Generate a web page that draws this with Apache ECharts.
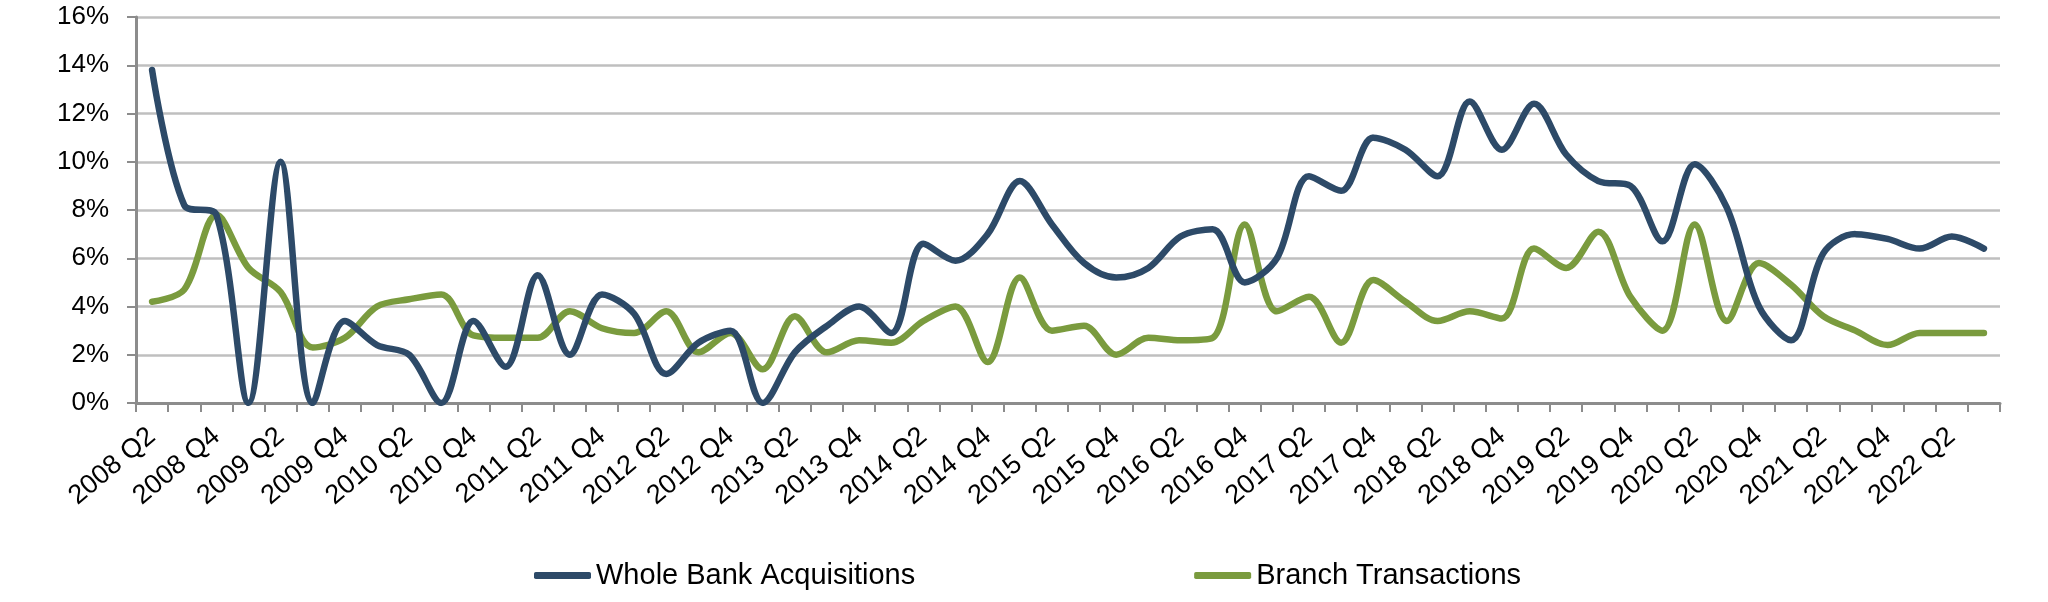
<!DOCTYPE html>
<html>
<head>
<meta charset="utf-8">
<script src="https://cdn.jsdelivr.net/npm/echarts@6/dist/echarts.min.js"></script>
<style>
html,body{margin:0;padding:0;background:#fff;}
#chart{width:2048px;height:602px;}
</style>
</head>
<body>
<div id="chart"></div>
<script>
const categories = [
  "2008 Q2","2008 Q3","2008 Q4","2009 Q1","2009 Q2","2009 Q3","2009 Q4",
  "2010 Q1","2010 Q2","2010 Q3","2010 Q4","2011 Q1","2011 Q2","2011 Q3","2011 Q4",
  "2012 Q1","2012 Q2","2012 Q3","2012 Q4","2013 Q1","2013 Q2","2013 Q3","2013 Q4",
  "2014 Q1","2014 Q2","2014 Q3","2014 Q4","2015 Q1","2015 Q2","2015 Q3","2015 Q4",
  "2016 Q1","2016 Q2","2016 Q3","2016 Q4","2017 Q1","2017 Q2","2017 Q3","2017 Q4",
  "2018 Q1","2018 Q2","2018 Q3","2018 Q4","2019 Q1","2019 Q2","2019 Q3","2019 Q4",
  "2020 Q1","2020 Q2","2020 Q3","2020 Q4","2021 Q1","2021 Q2","2021 Q3","2021 Q4",
  "2022 Q1","2022 Q2","2022 Q3"
];
const wholeBank = [
  13.8, 8.2, 7.8, 0, 10.0, 0, 3.4,
  2.4, 2.0, 0, 3.4, 1.5, 5.3, 2.0, 4.5,
  3.7, 1.2, 2.5, 3.0, 0, 2.1, 3.2, 4.0,
  2.9, 6.6, 5.9, 7.0, 9.2, 7.4, 5.8, 5.2,
  5.6, 6.9, 7.2, 5.0, 6.0, 9.4, 8.8, 11.0,
  10.5, 9.4, 12.5, 10.5, 12.4, 10.3, 9.2, 9.0,
  6.7, 9.9, 8.1, 4.0, 2.6, 6.2, 7.0, 6.8,
  6.4, 6.9, 6.4
];
const branch = [
  4.2, 4.7, 7.8, 5.6, 4.6, 2.3, 2.7,
  4.0, 4.3, 4.5, 2.8, 2.7, 2.7, 3.8, 3.1,
  2.9, 3.8, 2.1, 2.9, 1.4, 3.6, 2.1, 2.6,
  2.5, 3.4, 4.0, 1.7, 5.2, 3.0, 3.2, 2.0,
  2.7, 2.6, 2.7, 7.4, 3.8, 4.4, 2.5, 5.1,
  4.2, 3.4, 3.8, 3.5, 6.4, 5.6, 7.1, 4.4,
  3.0, 7.4, 3.4, 5.8, 4.9, 3.6, 3.0, 2.4,
  2.9, 2.9, 2.9
];
const seriesNames = ["Whole Bank Acquisitions", "Branch Transactions"];
const colors = ["#2D4A68", "#7A9B3E"];

const chart = echarts.init(document.getElementById('chart'), null, {renderer: 'canvas'});
const font = "'Liberation Sans', Arial, sans-serif";
chart.setOption({
  animation: false,
  backgroundColor: '#ffffff',
  color: colors,
  grid: {left: 136, right: 48, top: 17, bottom: 199, containLabel: false},
  legend: {
    data: seriesNames,
    left: 529,
    top: 555,
    icon: 'roundRect',
    itemWidth: 57,
    itemHeight: 7,
    itemGap: 279,
    textStyle: {fontFamily: font, fontSize: 29, color: '#000', lineHeight: 31}
  },
  xAxis: {
    type: 'category',
    data: categories,
    boundaryGap: true,
    axisLine: {lineStyle: {color: '#8C8C8C', width: 3}},
    axisTick: {show: true, interval: 0, length: 9, lineStyle: {color: '#8C8C8C', width: 2}},
    axisLabel: {interval: 1, rotate: 40, margin: 30, fontFamily: font, fontSize: 27, color: '#000'},
    splitLine: {show: false}
  },
  yAxis: {
    type: 'value',
    min: 0, max: 16, interval: 2,
    axisLine: {show: true, lineStyle: {color: '#8C8C8C', width: 3}},
    axisTick: {show: true, length: 9, lineStyle: {color: '#8C8C8C', width: 2}},
    axisLabel: {formatter: '{value}%', margin: 27, fontFamily: font, fontSize: 26, color: '#000'},
    splitLine: {show: true, lineStyle: {color: '#BFBFBF', width: 2.5}}
  },
  series: [
    {name: seriesNames[0], type: 'line', data: wholeBank, smooth: 0.33, showSymbol: false,
     lineStyle: {width: 6.5, color: colors[0], cap: 'round'}, itemStyle: {color: colors[0]}, z: 3},
    {name: seriesNames[1], type: 'line', data: branch, smooth: 0.33, showSymbol: false,
     lineStyle: {width: 6.5, color: colors[1], cap: 'round'}, itemStyle: {color: colors[1]}, z: 2}
  ]
});
</script>
</body>
</html>
